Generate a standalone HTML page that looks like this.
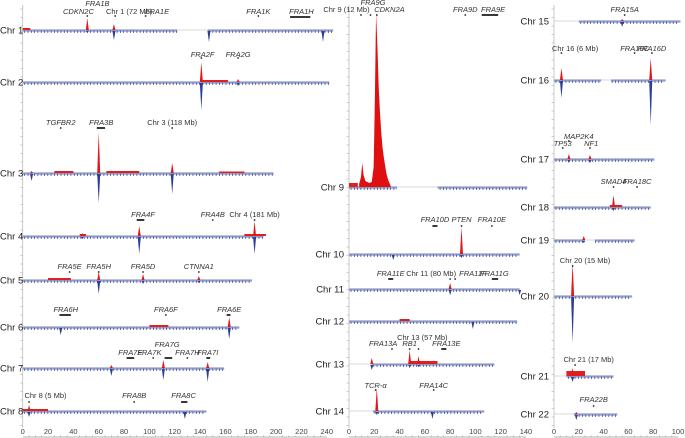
<!DOCTYPE html>
<html><head><meta charset="utf-8">
<style>
html,body{margin:0;padding:0;background:#fff;}
svg{display:block;font-family:"Liberation Sans",sans-serif;}
.lbl{font-size:7.5px;fill:#333;}
.it{font-style:italic;}
.row{font-size:9.5px;fill:#222;}
.tick{font-size:7.5px;fill:#444;}
</style></head>
<body>
<svg id="chart" width="685" height="438" viewBox="0 0 685 438"></svg>
<script>
const panelX0 = [22.7, 349, 554];
const panelScale = [1.267, 1.264, 1.24];
const panelTicks = [[0,20,40,60,80,100,120,140,160,180,200,220,240],[0,20,40,60,80,100,120,140],[0,20,40,60,80,100]];
const chromNames = ["Chr 1","Chr 2","Chr 3","Chr 4","Chr 5","Chr 6","Chr 7","Chr 8","Chr 9","Chr 10","Chr 11","Chr 12","Chr 13","Chr 14","Chr 15","Chr 16","Chr 17","Chr 18","Chr 19","Chr 20","Chr 21","Chr 22"];
const chromPanel = [0,0,0,0,0,0,0,0,1,1,1,1,1,1,2,2,2,2,2,2,2,2];
const chromBase = [30,82,173,236,280,327,368,411,187,254,289,321,364,411,21,80,159,207,240,296,376,414];
const chromStart = [0,0,0,0,0,0,0,0,0,0,0,0,18,19,20,0,0,0,0,0,10,16];
const chromEnd = [245,242,198,190,181,171,159,145,141,135,135,133,115,107,102,90,81,78,65,63,48,51];
// centromere/heterochromatin gaps without signal
const gapChrom = [0,8,18,15];
const gapStart = [122,38,25,38];
const gapEnd =   [146,70,33,46];
const spikeChrom = [0,0,0,0,1,1,2,2,2,3,3,3,4,4,4,5,5,6,6,6,7,7,9,9,10,10,11,12,12,12,13,13,15,15,16,16,17,18,19,20,21,14];
const spikePos =   [51,72,147,237,141,170,60,118,7,92,183,47,60,95,139,163,30,111,146,70,5,128,89,35,80,135,98,48,55,18,22,66,6,78,12,29,48,24,15,15,18,55];
const spikeUp =    [12,6,0,0,20,3,41,10,2,10,15,3,8,6,4,10,0,8,6,3,6,0,27,0,6,0,0,14,8,6,23,0,12,22,5,4,12,4,33,8,2,2];
const spikeDown =  [3,10,12,12,28,4,30,21,8,18,18,3,14,4,3,12,8,12,14,8,6,8,4,6,6,6,8,4,3,6,4,8,18,45,4,4,4,3,47,6,6,6];
const ampChrom = [0,1,2,2,2,3,3,5,8,12,12,17,20,11,4,7];
const ampStart = [0,141,25,66,155,45,175,100,0,48,52,45,10,40,20,0];
const ampEnd =   [6,162,40,92,175,50,192,115,7,60,70,55,25,48,38,20];
const ampH =     [2,2,2,2,1.5,2,2,2,4,3,3,2,5,2,2,2];
const chr9Pos = [8,9.5,10.5,11.5,13,16,18,19.5,20.5,21.4,22.5,23.5,24.5,25.5,26.5,27.5,28.5,29.5,31,33];
const chr9Val = [3,10,24,12,6,4,5,20,90,174,140,100,75,55,40,30,22,14,7,1];
const annChrom = [0,0,0,0,0,0, 1,1, 2,2,2, 3,3,3, 4,4,4,4, 5,5,5, 6,6,6,6,6, 7,7,7, 8,8,8,8,8,8, 9,9,9, 10,10,10,10,10, 12,12,12,12,12, 13,13, 14, 15,15,15, 16,16,16, 17,17, 19, 20, 21];
const annM0 = [51,null,73,97,186,211,141,170,30,58.5,118,90,150,183,37,60,95,139,29,113,161,82,103,112,130,145,5,88,125,9.5,17,22,null,92,105,66,89,113,31,80,null,113,84,34,48,55,73,null,21,67,57,6,65,79,7,12,29,48,67,15,17,32];
const annM1 = [51,null,73,97,186,227,141,170,30,65,118,96,150,183,37,60,95,139,38,113,164,88,103,118,130,148,5,88,130,9.5,17,22,null,92,118,70,89,113,35,80,null,118,84,34,48,55,77,null,21,67,57,6,65,79,7,12,29,48,67,15,17,32];
const annMY = [16,16,16,16,16,17,58,58,128,128,128,220,220,220,272,272,272,272,315,315,315,358,358,358,358,358,402,402,402,15,15,15,15,15,15,226,226,226,279,279,279,279,279,349,349,349,349,349,390,390,15,53,53,53,148,141,148,187,187,266,365,406];
const annText = ["CDKN2C","FRA1B","Chr 1 (72 Mb)","FRA1E","FRA1K","FRA1H","FRA2F","FRA2G","TGFBR2","FRA3B","Chr 3 (118 Mb)","FRA4F","FRA4B","Chr 4 (181 Mb)","FRA5E","FRA5H","FRA5D","CTNNA1","FRA6H","FRA6F","FRA6E","FRA7E","FRA7K","FRA7G","FRA7H","FRA7I","Chr 8 (5 Mb)","FRA8B","FRA8C","Chr 9 (12 Mb)","FRA9G","CDKN2A","","FRA9D","FRA9E","FRA10D","PTEN","FRA10E","FRA11E","Chr 11 (80 Mb)","","FRA11F","FRA11G","FRA13A","RB1","Chr 13 (57 Mb)","FRA13E","","TCR-α","FRA14C","FRA15A","Chr 16 (6 Mb)","FRA16C","FRA16D","TP53","MAP2K4","NF1","SMAD4","FRA18C","Chr 20 (15 Mb)","Chr 21 (17 Mb)","FRA22B"];
const annTX = [44,59,84,106,186,220,142,170,30,62,118,95,150,183,37,60,95,139,34,113,163,85,100,114,130,146,18,88,127,-2,19,32,0,92,114,68,89,113,33,65,0,98,115,27,48,58,77,0,21,67,57,17,65,79,7,20,30,48,67,25,28,32];
const annTY = [14,6,14,14,14,14,57,57,125,125,125,217,217,217,269,269,269,269,312,312,312,355,355,347,355,355,398,398,398,12,5,12,12,12,12,222,222,222,276,276,276,276,276,346,346,340,346,346,388,388,12,51,51,51,146,139,146,184,184,263,362,402];
const annItalic = [1,1,0,1,1,1,1,1,1,1,0,1,1,0,1,1,1,1,1,1,1,1,1,1,1,1,0,1,1,0,1,1,0,1,1,1,1,1,1,0,0,1,1,1,1,0,1,0,1,1,1,0,1,1,1,1,1,1,1,0,0,1];

const NS = "http://www.w3.org/2000/svg";
const svg = document.getElementById("chart");
function mk(tag, attrs, parent){const e=document.createElementNS(NS,tag);for(const k in attrs)e.setAttribute(k,attrs[k]);(parent||svg).appendChild(e);return e;}
function xOf(p, mb){return panelX0[p] + mb*panelScale[p];}

const axisTop=[5,5,5], axisBot=[428,428,428];
for(let p=0;p<3;p++){
  const g = mk("g",{});
  
  
  mk("line",{x1:panelX0[p],x2:panelX0[p],y1:axisTop[p],y2:axisBot[p],stroke:"#bbb","stroke-width":0.8},g);
  for(let y=axisTop[p]+4;y<axisBot[p];y+=8.5) mk("line",{x1:panelX0[p]-2.5,x2:panelX0[p],y1:y,y2:y,stroke:"#bbb","stroke-width":0.7},g);
  const t = panelTicks[p];
  mk("line",{x1:xOf(p,t[0]),x2:xOf(p,t[t.length-1]),y1:437,y2:437,stroke:"#999","stroke-width":0.8},g);
  for(let i=0;i<t.length;i++){
    const x=xOf(p,t[i]);
    const tx = mk("text",{x:x,y:434,"text-anchor":"middle",class:"tick"},g);
    tx.textContent=t[i];
    
    
    if(i<t.length-1){ for(let k=1;k<4;k++){const xm=xOf(p,t[i]+k*5); mk("line",{x1:xm,x2:xm,y1:435.5,y2:437,stroke:"#999","stroke-width":0.6},g);} }
  }
}

for(let c=0;c<chromNames.length;c++){
  const p=chromPanel[c], b=chromBase[c];
  const g=mk("g",{});
  
  
  const lab=mk("text",{x:p==0?0:xOf(p,0)-5,y:b+3.5,class:"row","text-anchor":p==0?"start":"end"},g);
  lab.textContent=chromNames[c];
  
  
  const x0=xOf(p,chromStart[c]), x1=xOf(p,chromEnd[c]);
  const band=mk("rect",{x:x0,y:b,width:x1-x0,height:1.5,fill:"#3a4fa8",opacity:0.7},g);
  
  
  for(let x=x0+2;x<x1-1;x+=3.3){mk("line",{x1:x,x2:x,y1:b,y2:b+3,stroke:"#2c3f9a","stroke-width":0.7},g);}
  mk("line",{x1:x0,x2:x1,y1:b-0.5,y2:b-0.5,stroke:"#6a78c8","stroke-width":0.6},g);
}
for(let i=0;i<gapChrom.length;i++){
  const c=gapChrom[i],p=chromPanel[c],b=chromBase[c];
  const r=mk("rect",{x:xOf(p,gapStart[i]),y:b-1.5,width:(gapEnd[i]-gapStart[i])*panelScale[p],height:5,fill:"#fff"});
  
  
}
for(let c=0;c<chromNames.length;c++){
  const p=chromPanel[c], b=chromBase[c];
  const l=mk("line",{x1:xOf(p,0),x2:xOf(p,chromEnd[c]),y1:b,y2:b,stroke:"#ccc","stroke-width":0.8});
  
  
}
for(let i=0;i<ampChrom.length;i++){
  const c=ampChrom[i],p=chromPanel[c],b=chromBase[c];
  const r=mk("rect",{x:xOf(p,ampStart[i]),y:b-ampH[i],width:(ampEnd[i]-ampStart[i])*panelScale[p],height:ampH[i],fill:"#e02020"});
  
  
}
for(let i=0;i<spikeChrom.length;i++){
  const c=spikeChrom[i],p=chromPanel[c],b=chromBase[c],x=xOf(p,spikePos[i]);
  if(spikeUp[i]>0){
    const s=mk("polygon",{points:(x-1.5)+","+b+" "+x+","+(b-spikeUp[i])+" "+(x+1.5)+","+b,fill:"#e01818"});
    
    
  }
  if(spikeDown[i]>0){
    const s=mk("polygon",{points:(x-1.5)+","+(b+1)+" "+x+","+(b+spikeDown[i])+" "+(x+1.5)+","+(b+1),fill:"#2a3c9c"});
    
    
  }
}
{
  const b=chromBase[8];
  let pts=xOf(1,chr9Pos[0])+","+b;
  for(let i=0;i<chr9Pos.length;i++) pts+=" "+xOf(1,chr9Pos[i])+","+(b-chr9Val[i]);
  pts+=" "+xOf(1,chr9Pos[chr9Pos.length-1])+","+b;
  const poly=mk("polygon",{points:pts,fill:"#e01010"});
  
  
}
for(let i=0;i<annText.length;i++){
  const c=annChrom[i],p=chromPanel[c];
  if(annM0[i]!==null){
    const a=xOf(p,annM0[i]), z=xOf(p,annM1[i]);
    let m;
    if(z-a<1){ m=mk("circle",{cx:a,cy:annMY[i],r:0.9,fill:"#222"}); }
    else { m=mk("rect",{x:a,y:annMY[i]-0.9,width:z-a,height:1.8,fill:"#222"}); }
    
    
  }
  if(annText[i]){
    const t=mk("text",{x:xOf(p,annTX[i]),y:annTY[i],"text-anchor":"middle",class:"lbl"+(annItalic[i]?" it":"")});
    t.textContent=annText[i];
    
    
  }
}
</script>
</body></html>
